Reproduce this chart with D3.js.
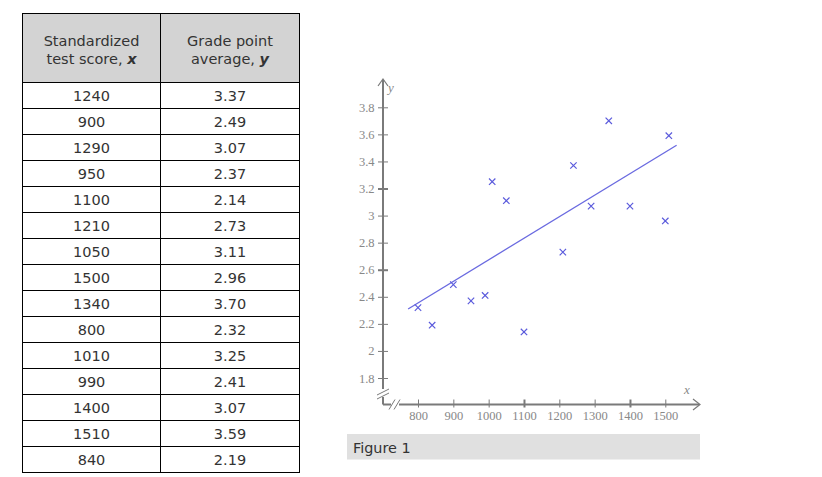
<!DOCTYPE html>
<html>
<head>
<meta charset="utf-8">
<script src="https://cdn.jsdelivr.net/npm/d3@7"></script>
<style>
  body { margin: 0; background: #fff; }
  svg { display: block; }
</style>
</head>
<body>
<svg id="chart" width="822" height="477"></svg>
<script>
// table / scatter data
var scores = [1240, 900, 1290, 950, 1100, 1210, 1050, 1500, 1340, 800, 1010, 990, 1400, 1510, 840];
var gpas = ["3.37", "2.49", "3.07", "2.37", "2.14", "2.73", "3.11", "2.96", "3.70", "2.32", "3.25", "2.41", "3.07", "3.59", "2.19"];
var xTicks = [800, 900, 1000, 1100, 1200, 1300, 1400, 1500];
var yTicks = [1.8, 2, 2.2, 2.4, 2.6, 2.8, 3, 3.2, 3.4, 3.6, 3.8];
// fitted line end points
var fitX = [772, 1532];
var fitY = [2.31, 3.52];

var svg = d3.select('#chart');
var tableFont = '"DejaVu Sans", Verdana, sans-serif';
var serif = '"Liberation Serif", "Times New Roman", serif';

// ---- table ----
var tx0 = 22.5, tx1 = 160.5, tx2 = 299.5;
var ty0 = 13.5, headH = 69, rowH = 26;
var table = svg.append('g');

table.append('rect')
    .attr('x', tx0).attr('y', ty0)
    .attr('width', tx2 - tx0).attr('height', headH)
    .attr('fill', '#d3d3d3');

var head = table.append('g')
    .attr('font-family', tableFont)
    .attr('font-size', 14.5)
    .attr('fill', '#333')
    .attr('text-anchor', 'middle');

var h1 = head.append('text').attr('x', (tx0 + tx1) / 2).attr('y', 45.5);
h1.append('tspan').text('Standardized');
var h1b = head.append('text').attr('x', (tx0 + tx1) / 2).attr('y', 63.5);
h1b.append('tspan').text('test score, ');
h1b.append('tspan').attr('font-weight', 'bold').attr('font-style', 'italic').text('x');

head.append('text').attr('x', (tx1 + tx2) / 2).attr('y', 45.5).text('Grade point');
var h2b = head.append('text').attr('x', (tx1 + tx2) / 2).attr('y', 63.5);
h2b.append('tspan').text('average, ');
h2b.append('tspan').attr('font-weight', 'bold').attr('font-style', 'italic').text('y');

var rows = table.selectAll('.row')
    .data(scores)
    .enter()
    .append('g')
    .attr('class', 'row')
    .attr('transform', function (d, i) {
        return 'translate(0,' + (ty0 + headH + i * rowH) + ')';
    });

rows.append('line')
    .attr('x1', tx0).attr('x2', tx2)
    .attr('y1', 0).attr('y2', 0)
    .attr('stroke', '#000');

rows.append('text')
    .attr('x', (tx0 + tx1) / 2).attr('y', 18.5)
    .attr('text-anchor', 'middle')
    .attr('font-family', tableFont).attr('font-size', 14.5)
    .attr('fill', '#333')
    .text(function (d) { return d; });

rows.append('text')
    .attr('x', (tx1 + tx2) / 2).attr('y', 18.5)
    .attr('text-anchor', 'middle')
    .attr('font-family', tableFont).attr('font-size', 14.5)
    .attr('fill', '#333')
    .text(function (d, i) { return gpas[i]; });

var tBottom = ty0 + headH + scores.length * rowH;
table.append('rect')
    .attr('x', tx0).attr('y', ty0)
    .attr('width', tx2 - tx0).attr('height', tBottom - ty0)
    .attr('fill', 'none').attr('stroke', '#000');
table.append('line')
    .attr('x1', tx1).attr('x2', tx1)
    .attr('y1', ty0).attr('y2', tBottom)
    .attr('stroke', '#000');

// ---- scatter plot ----
var xScale = d3.scaleLinear().domain([800, 1500]).range([418, 665.3]);
var yScale = d3.scaleLinear().domain([1.8, 3.8]).range([378, 107.3]);
var ox = 383, oy = 404.5;
var axisColor = '#7a7a7a';
var markColor = '#5b5bdc';

var plot = svg.append('g');

// x ticks + labels
var xAxis = d3.axisBottom(xScale).tickValues(xTicks).tickSize(0).tickPadding(0)
    .tickFormat(d3.format('d'));
var gx = plot.append('g').attr('transform', 'translate(0,' + oy + ')').call(xAxis);
gx.select('.domain').remove();
gx.selectAll('.tick line')
    .attr('y1', -5).attr('y2', 3)
    .attr('stroke', axisColor)
    .attr('stroke-width', function (d) { return (d === 1100 || d === 1400) ? 2 : 1; });
gx.selectAll('.tick text')
    .attr('y', 7).attr('dy', '0.71em')
    .attr('font-family', serif).attr('font-size', 12.5)
    .attr('fill', '#888');

// y ticks + labels
var yAxis = d3.axisLeft(yScale).tickValues(yTicks).tickSize(0).tickPadding(0)
    .tickFormat(d3.format('~g'));
var gy = plot.append('g').attr('transform', 'translate(' + ox + ',0)').call(yAxis);
gy.select('.domain').remove();
gy.selectAll('.tick line')
    .attr('x1', -5).attr('x2', 5)
    .attr('stroke', axisColor)
    .attr('stroke-width', function (d) { return (d === 2.6 || d === 3.2) ? 2 : 1; });
gy.selectAll('.tick text')
    .attr('x', -8.5)
    .attr('font-family', serif).attr('font-size', 12.5)
    .attr('fill', '#888');

// axis lines with breaks
var axes = plot.append('g')
    .attr('stroke', axisColor).attr('fill', 'none').attr('stroke-width', 2);
axes.append('path').attr('d', 'M' + ox + ',' + oy + 'V397 M' + ox + ',389V80');
axes.append('path').attr('d', 'M' + ox + ',' + oy + 'H391 M399,' + oy + 'H699');
axes.append('path').attr('stroke-width', 1.2)
    .attr('d', 'M378,86L' + ox + ',79L388,86 M693,399L700,' + oy + 'L693,410');
axes.append('path').attr('stroke-width', 1)
    .attr('d', 'M377,395L389,389 M377,399L389,393 M389,409.5L395,399.5 M394,409.5L400,399.5');

plot.append('text').attr('x', 388).attr('y', 92)
    .attr('font-family', serif).attr('font-size', 13).attr('font-style', 'italic')
    .attr('fill', '#888').text('y');
plot.append('text').attr('x', 684).attr('y', 394)
    .attr('font-family', serif).attr('font-size', 13).attr('font-style', 'italic')
    .attr('fill', '#888').text('x');

// fitted line
var line = d3.line()
    .x(function (d) { return xScale(d[0]); })
    .y(function (d) { return yScale(d[1]); });
plot.append('path')
    .datum(fitX.map(function (d, i) { return [d, fitY[i]]; }))
    .attr('d', line)
    .attr('fill', 'none')
    .attr('stroke', '#6a6ae0')
    .attr('stroke-width', 1.3);

// x marks
var s = 3.2;
plot.selectAll('.mark')
    .data(scores)
    .enter()
    .append('path')
    .attr('class', 'mark')
    .attr('d', function (d, i) {
        var cx = xScale(d), cy = yScale(+gpas[i]);
        return 'M' + (cx - s) + ',' + (cy - s) + 'L' + (cx + s) + ',' + (cy + s) +
            'M' + (cx - s) + ',' + (cy + s) + 'L' + (cx + s) + ',' + (cy - s);
    })
    .attr('stroke', markColor)
    .attr('stroke-width', 1.2);

// caption
svg.append('rect')
    .attr('x', 347).attr('y', 434)
    .attr('width', 353).attr('height', 25.5)
    .attr('fill', '#e0e0e0');
svg.append('text')
    .attr('x', 353).attr('y', 452.5)
    .attr('font-family', tableFont).attr('font-size', 14.4)
    .attr('fill', '#333')
    .text('Figure 1');
</script>
</body>
</html>
